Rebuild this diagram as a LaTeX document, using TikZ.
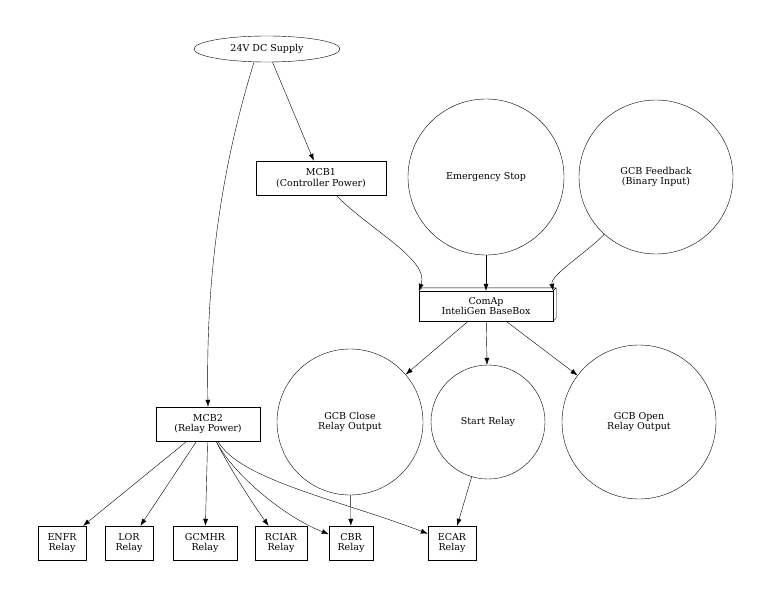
\documentclass[tikz,border=0pt]{standalone}
\usepackage{fontspec}
\setmainfont{DejaVu Serif}
\usetikzlibrary{arrows.meta, shapes.geometric}
\tikzset{
  box/.style={draw, rectangle, align=center, inner sep=2pt, minimum height=34pt, font=\fontsize{9.5}{10.5}\selectfont},
  disc/.style={draw, circle, align=center, font=\fontsize{9.5}{10.5}\selectfont},
  link/.style={-{Latex[length=7pt,width=5pt]}, thin}
}
\begin{document}
\begin{tikzpicture}[x=1pt, y=-1pt]
\useasboundingbox (0,0) rectangle (768,596);
\node[draw, ellipse, minimum width=146pt, minimum height=26pt, inner sep=0pt, font=\fontsize{9.5}{10.5}\selectfont] (dc) at (267,49) {24V DC Supply};
\node[box, minimum width=130pt] (mcb1) at (321,178) {MCB1\\(Controller Power)};
\node[disc, minimum size=156pt] (estop) at (486,177) {Emergency Stop};
\node[disc, minimum size=154pt] (fb) at (656,177) {GCB Feedback\\(Binary Input)};
\node[box, minimum width=134pt, minimum height=30pt] (comap) at (486,306) {ComAp\\InteliGen BaseBox};
\draw (comap.north west) -- ++(3,-3) -- ([shift={(3,-3)}]comap.north east) -- ([shift={(3,-3)}]comap.south east) -- (comap.south east)
      (comap.north east) -- ++(3,-3);
\node[disc, minimum size=146pt] (close) at (350,422) {GCB Close\\Relay Output};
\node[disc, minimum size=114pt] (start) at (488,422) {Start Relay};
\node[disc, minimum size=154pt] (open) at (639,422) {GCB Open\\Relay Output};
\node[box, minimum width=104pt] (mcb2) at (208,424) {MCB2\\(Relay Power)};
\node[box, minimum width=48pt] (enfr) at (62,543) {ENFR\\Relay};
\node[box, minimum width=48pt] (lor) at (129,543) {LOR\\Relay};
\node[box, minimum width=64pt] (gcmhr) at (205,543) {GCMHR\\Relay};
\node[box, minimum width=52pt] (rciar) at (281,543) {RCIAR\\Relay};
\node[box, minimum width=44pt] (cbr) at (351,543) {CBR\\Relay};
\node[box, minimum width=48pt] (ecar) at (452,543) {ECAR\\Relay};
\draw[link] (dc) -- (mcb1);
\draw[link] (dc.south) ++(-13,0) .. controls (230,140) and (205,250) .. (mcb2.north);
\draw[link] (mcb1.south) ++(15,0) .. controls (370,230) and (430,260) .. (comap.north west);
\draw[link] (estop) -- (comap);
\draw[link] (fb) .. controls (590,250) and (550,275) .. (comap.north east);
\draw[link] (comap) -- (close);
\draw[link] (comap) -- (start);
\draw[link] (comap) -- (open);
\draw[link] (mcb2) -- (enfr);
\draw[link] (mcb2) -- (lor);
\draw[link] (mcb2) -- (gcmhr);
\draw[link] (mcb2) .. controls (225,460) and (250,500) .. (rciar);
\draw[link] (mcb2) .. controls (230,470) and (280,515) .. (cbr);
\draw[link] (mcb2) .. controls (240,480) and (340,500) .. (ecar);
\draw[link] (close) -- (cbr);
\draw[link] (start) -- (ecar);
\end{tikzpicture}
\end{document}
